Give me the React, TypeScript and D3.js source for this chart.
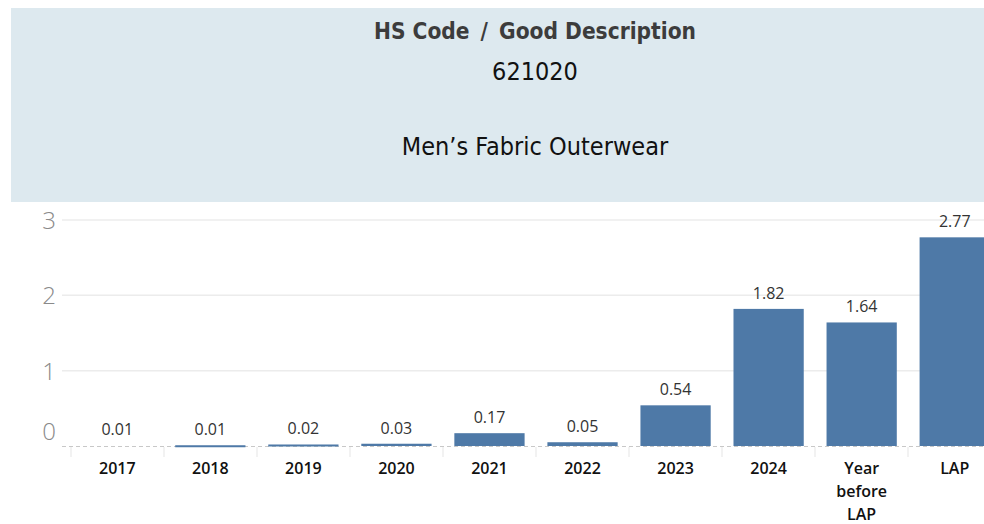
import React from 'react';
import * as d3 from 'd3';

const categories = ['2017', '2018', '2019', '2020', '2021', '2022', '2023', '2024', 'Year before LAP', 'LAP'];
const values = [0.01, 0.01, 0.02, 0.03, 0.17, 0.05, 0.54, 1.82, 1.64, 2.77];
const yTicks = [0, 1, 2, 3];
const titleLines = ['HS Code / Good Description', '621020', 'Men\u2019s Fabric Outerwear'];

const W = 984;
const H = 524;
const headFont = "'Liberation Sans Narrow', 'DejaVu Sans Condensed', sans-serif";

const App = () => {
    const x = d3.scaleBand().domain(categories).range([71, 1001]).paddingInner(0.245).paddingOuter(0.12);
    const y = d3.scaleLinear().domain([0, 3]).range([446, 220]);

    // tableau-ish wrap for the long label
    const wrap = (s: string) => (s.length > 6 ? s.split(' ') : [s]);
    const sepX = categories.map((_, i) => 71 + i * (930 / categories.length));

    return (
        <svg width={W} height={H} style={{ position: 'absolute', left: 0, top: 0 }}>
            <rect x={11} y={8} width={W - 11} height={194} fill="#dde9ef" />
            <text x={535} y={39} textAnchor="middle" fontFamily={headFont} fontSize={22.5} fontWeight={700} fill="#3c3c3c">
                HS Code {'\u2009'}/{'\u2009'} Good Description
            </text>
            <text x={535} y={80} textAnchor="middle" fontFamily={headFont} fontSize={25} fill="#111">{titleLines[1]}</text>
            <text x={535} y={155} textAnchor="middle" fontFamily={headFont} fontSize={25} fill="#111">{titleLines[2]}</text>

            {yTicks.filter(t => t > 0).map(t => (
                <line key={t} x1={62} x2={W} y1={y(t)} y2={y(t)} stroke="#ececec" strokeWidth={1.5} />
            ))}
            {yTicks.map(t => (
                <text key={t} x={56} y={t === 0 ? 440 : y(t) + 9} textAnchor="end" fontFamily="'Open Sans', sans-serif" fontSize={24} fontWeight={300} fill="#8a8a8a">{t}</text>
            ))}

            <line x1={62} x2={W} y1={446.5} y2={446.5} stroke="#c8c8c8" strokeDasharray="4,3" />
            {sepX.map((sx, i) => (
                <line key={i} x1={sx} x2={sx} y1={447} y2={457} stroke="#eeeeee" strokeWidth={1.5} />
            ))}

            {categories.map((c, i) => {
                const bx = x(c) as number;
                const h = Math.max(0, y(0) - y(values[i]));
                const top = 446 - h;
                return (
                    <g key={c}>
                        {i > 0 && <rect x={bx} y={top} width={x.bandwidth()} height={Math.max(h, 2)} fill="#4e79a7" />}
                        <text x={bx + x.bandwidth() / 2} y={top - 10} textAnchor="middle" fontFamily="'Open Sans', sans-serif" fontSize={16} fill="#333">
                            {values[i].toFixed(2)}
                        </text>
                        {wrap(c).map((line, j) => (
                            <text key={j} x={bx + x.bandwidth() / 2} y={474 + j * 23} textAnchor="middle" fontFamily="'Open Sans', sans-serif" fontSize={16} fontWeight={600} fill="#111">
                                {line}
                            </text>
                        ))}
                    </g>
                );
            })}
        </svg>
    );
};

export default App;
